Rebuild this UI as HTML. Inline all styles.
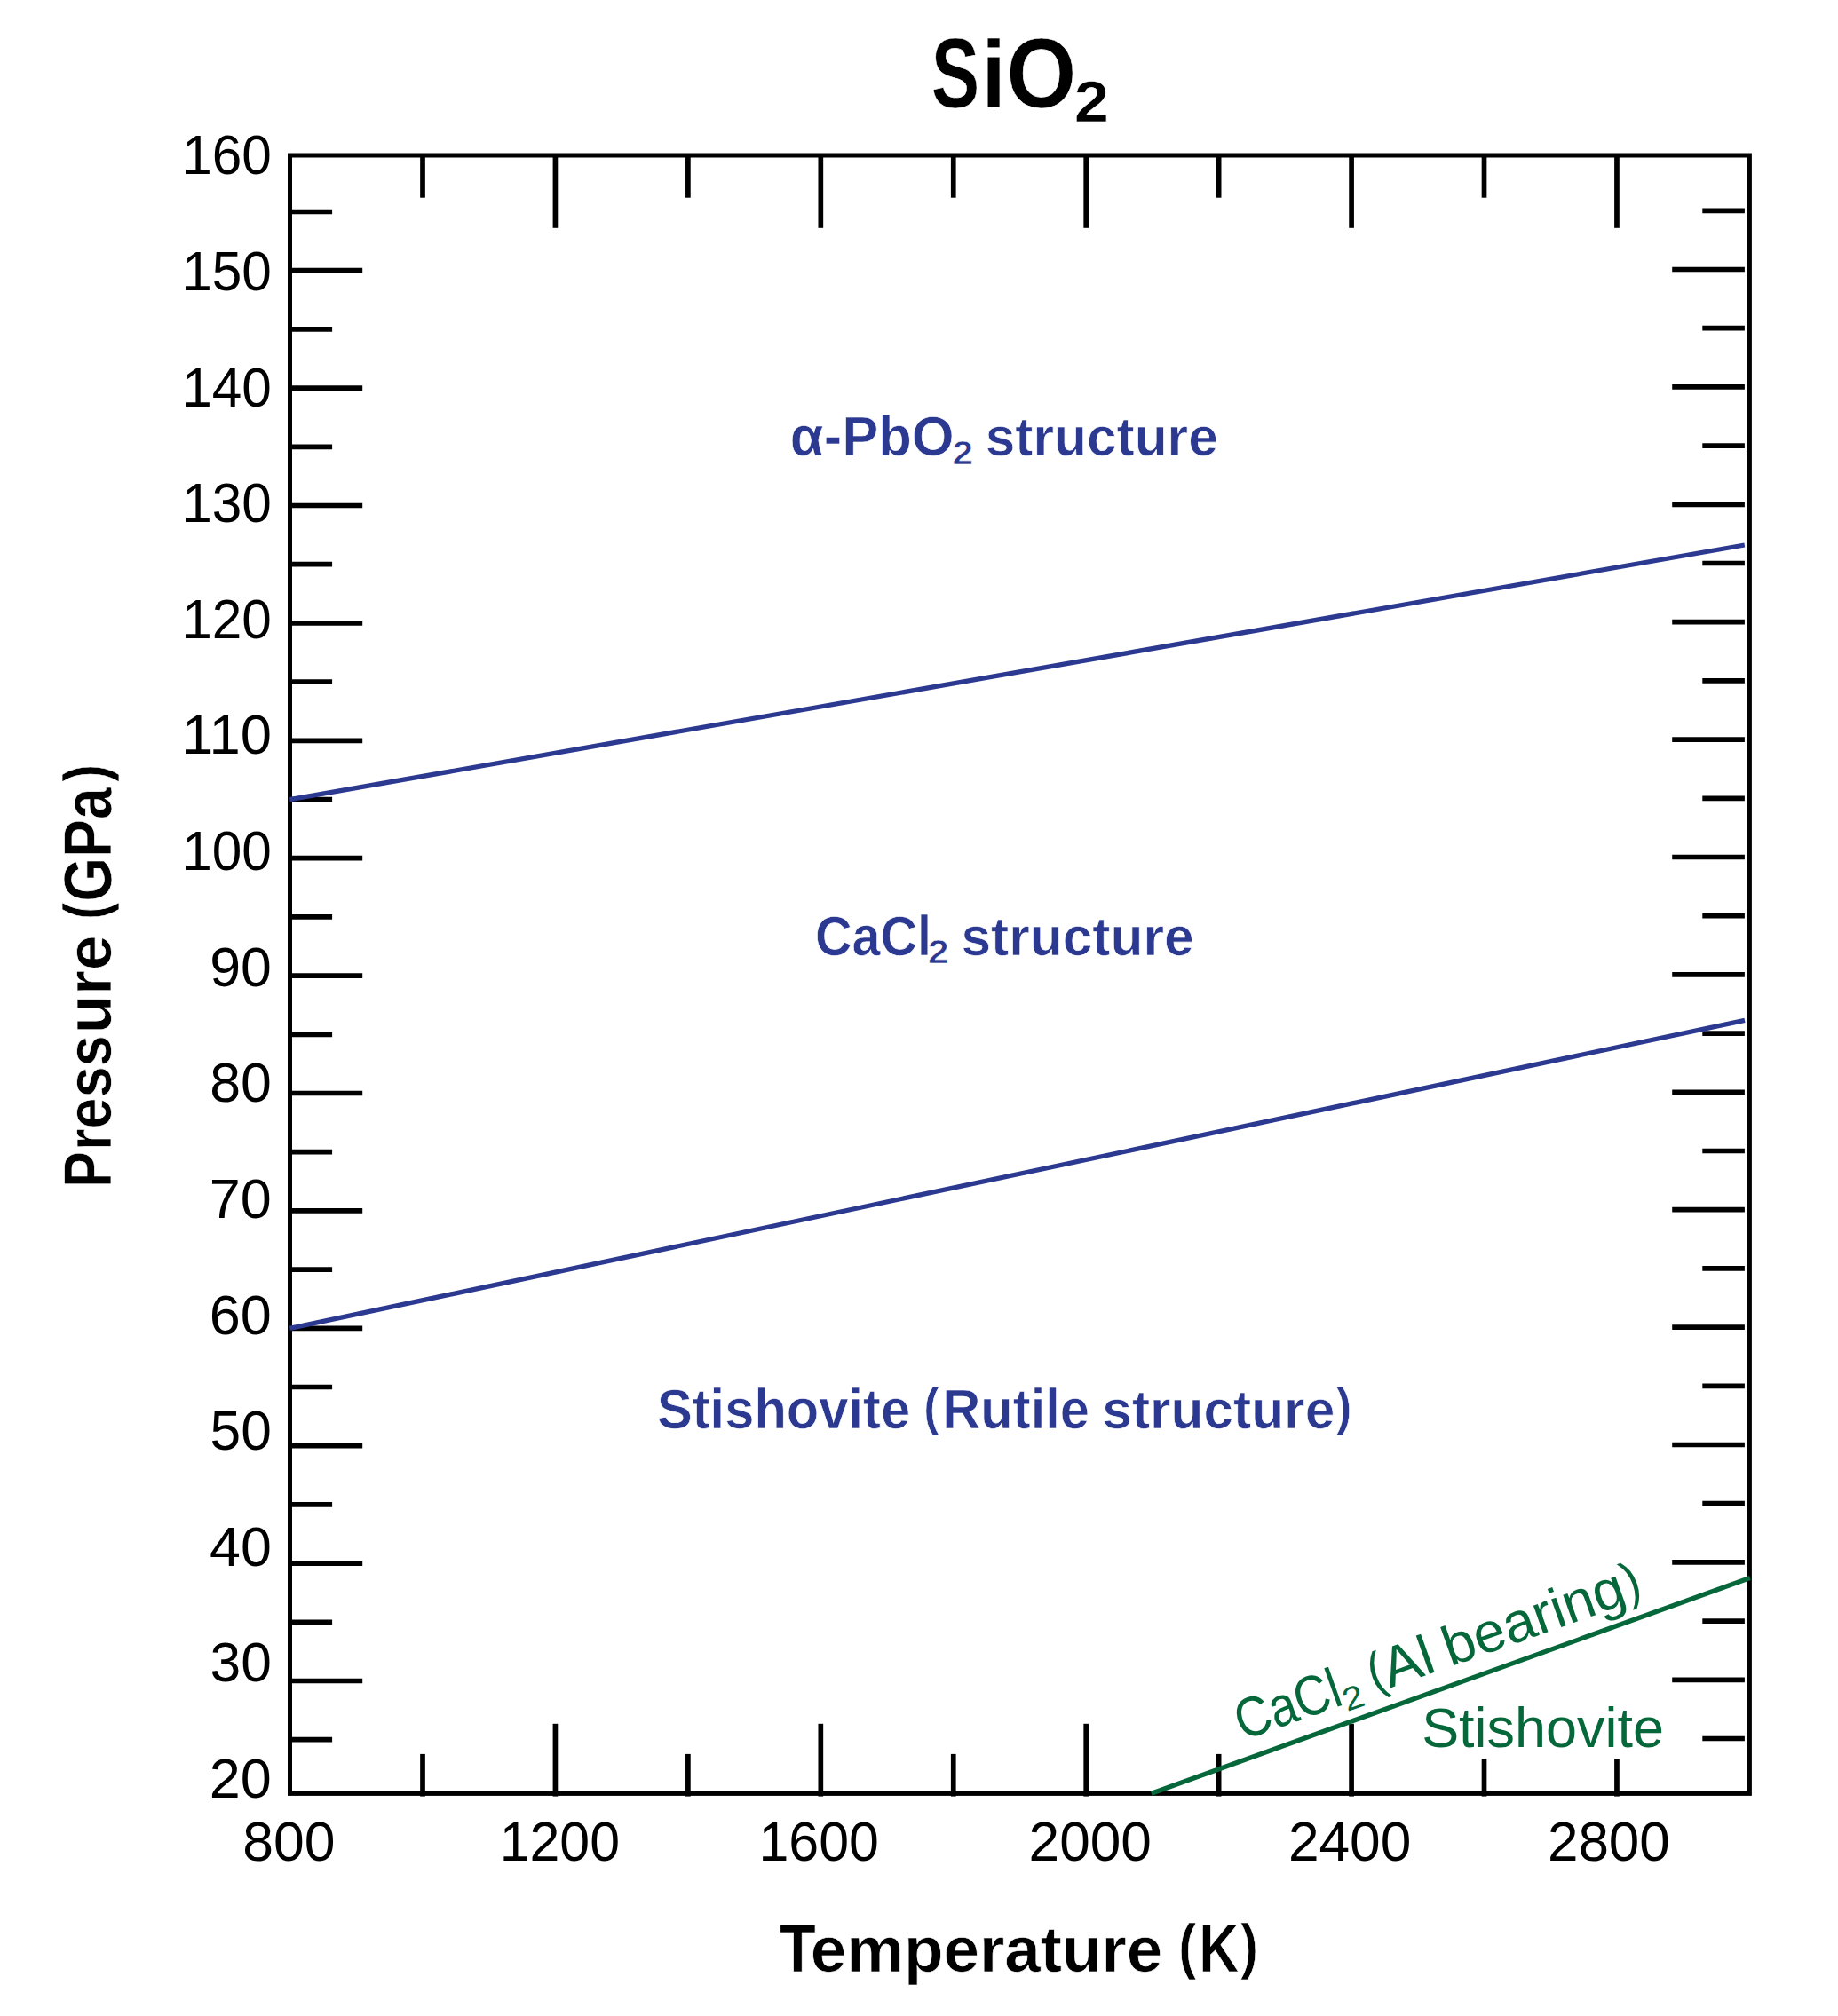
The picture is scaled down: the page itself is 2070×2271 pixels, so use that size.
<!DOCTYPE html>
<html lang="en">
<head>
<meta charset="utf-8">
<title>SiO2 phase diagram</title>
<style>
html,body{margin:0;padding:0;background:#fff;width:2070px;height:2271px;overflow:hidden;}
svg{display:block;}
text{font-family:"Liberation Sans", sans-serif;}
</style>
</head>
<body>
<svg width="2070" height="2271" viewBox="0 0 2070 2271">
<rect x="0" y="0" width="2070" height="2271" fill="#fff"/>
<g fill="none" stroke="#000" stroke-width="5.7" stroke-linecap="butt">
<line x1="326.50" y1="1959.70" x2="374.10" y2="1959.70"/>
<line x1="1917.30" y1="1958.50" x2="1964.90" y2="1958.50"/>
<line x1="326.50" y1="1893.50" x2="408.20" y2="1893.50"/>
<line x1="1883.20" y1="1892.30" x2="1964.90" y2="1892.30"/>
<line x1="326.50" y1="1827.30" x2="374.10" y2="1827.30"/>
<line x1="1917.30" y1="1826.10" x2="1964.90" y2="1826.10"/>
<line x1="326.50" y1="1761.10" x2="408.20" y2="1761.10"/>
<line x1="1883.20" y1="1759.90" x2="1964.90" y2="1759.90"/>
<line x1="326.50" y1="1694.90" x2="374.10" y2="1694.90"/>
<line x1="1917.30" y1="1693.70" x2="1964.90" y2="1693.70"/>
<line x1="326.50" y1="1628.70" x2="408.20" y2="1628.70"/>
<line x1="1883.20" y1="1627.50" x2="1964.90" y2="1627.50"/>
<line x1="326.50" y1="1562.50" x2="374.10" y2="1562.50"/>
<line x1="1917.30" y1="1561.30" x2="1964.90" y2="1561.30"/>
<line x1="326.50" y1="1496.30" x2="408.20" y2="1496.30"/>
<line x1="1883.20" y1="1495.10" x2="1964.90" y2="1495.10"/>
<line x1="326.50" y1="1430.10" x2="374.10" y2="1430.10"/>
<line x1="1917.30" y1="1428.90" x2="1964.90" y2="1428.90"/>
<line x1="326.50" y1="1363.90" x2="408.20" y2="1363.90"/>
<line x1="1883.20" y1="1362.70" x2="1964.90" y2="1362.70"/>
<line x1="326.50" y1="1297.70" x2="374.10" y2="1297.70"/>
<line x1="1917.30" y1="1296.50" x2="1964.90" y2="1296.50"/>
<line x1="326.50" y1="1231.50" x2="408.20" y2="1231.50"/>
<line x1="1883.20" y1="1230.30" x2="1964.90" y2="1230.30"/>
<line x1="326.50" y1="1165.30" x2="374.10" y2="1165.30"/>
<line x1="1917.30" y1="1164.10" x2="1964.90" y2="1164.10"/>
<line x1="326.50" y1="1099.10" x2="408.20" y2="1099.10"/>
<line x1="1883.20" y1="1097.90" x2="1964.90" y2="1097.90"/>
<line x1="326.50" y1="1032.90" x2="374.10" y2="1032.90"/>
<line x1="1917.30" y1="1031.70" x2="1964.90" y2="1031.70"/>
<line x1="326.50" y1="966.70" x2="408.20" y2="966.70"/>
<line x1="1883.20" y1="965.50" x2="1964.90" y2="965.50"/>
<line x1="326.50" y1="900.50" x2="374.10" y2="900.50"/>
<line x1="1917.30" y1="899.30" x2="1964.90" y2="899.30"/>
<line x1="326.50" y1="834.30" x2="408.20" y2="834.30"/>
<line x1="1883.20" y1="833.10" x2="1964.90" y2="833.10"/>
<line x1="326.50" y1="768.10" x2="374.10" y2="768.10"/>
<line x1="1917.30" y1="766.90" x2="1964.90" y2="766.90"/>
<line x1="326.50" y1="701.90" x2="408.20" y2="701.90"/>
<line x1="1883.20" y1="700.70" x2="1964.90" y2="700.70"/>
<line x1="326.50" y1="635.70" x2="374.10" y2="635.70"/>
<line x1="1917.30" y1="634.50" x2="1964.90" y2="634.50"/>
<line x1="326.50" y1="569.50" x2="408.20" y2="569.50"/>
<line x1="1883.20" y1="568.30" x2="1964.90" y2="568.30"/>
<line x1="326.50" y1="503.30" x2="374.10" y2="503.30"/>
<line x1="1917.30" y1="502.10" x2="1964.90" y2="502.10"/>
<line x1="326.50" y1="437.10" x2="408.20" y2="437.10"/>
<line x1="1883.20" y1="435.90" x2="1964.90" y2="435.90"/>
<line x1="326.50" y1="370.90" x2="374.10" y2="370.90"/>
<line x1="1917.30" y1="369.70" x2="1964.90" y2="369.70"/>
<line x1="326.50" y1="304.70" x2="408.20" y2="304.70"/>
<line x1="1883.20" y1="303.50" x2="1964.90" y2="303.50"/>
<line x1="326.50" y1="238.50" x2="374.10" y2="238.50"/>
<line x1="1917.30" y1="237.30" x2="1964.90" y2="237.30"/>
<line x1="476.00" y1="175.00" x2="476.00" y2="222.70"/>
<line x1="476.00" y1="1975.90" x2="476.00" y2="2023.60"/>
<line x1="625.44" y1="175.00" x2="625.44" y2="256.80"/>
<line x1="625.44" y1="1941.80" x2="625.44" y2="2023.60"/>
<line x1="774.88" y1="175.00" x2="774.88" y2="222.70"/>
<line x1="774.88" y1="1975.90" x2="774.88" y2="2023.60"/>
<line x1="924.32" y1="175.00" x2="924.32" y2="256.80"/>
<line x1="924.32" y1="1941.80" x2="924.32" y2="2023.60"/>
<line x1="1073.76" y1="175.00" x2="1073.76" y2="222.70"/>
<line x1="1073.76" y1="1975.90" x2="1073.76" y2="2023.60"/>
<line x1="1223.20" y1="175.00" x2="1223.20" y2="256.80"/>
<line x1="1223.20" y1="1941.80" x2="1223.20" y2="2023.60"/>
<line x1="1372.64" y1="175.00" x2="1372.64" y2="222.70"/>
<line x1="1372.64" y1="1975.90" x2="1372.64" y2="2023.60"/>
<line x1="1522.08" y1="175.00" x2="1522.08" y2="256.80"/>
<line x1="1522.08" y1="1941.80" x2="1522.08" y2="2023.60"/>
<line x1="1671.52" y1="175.00" x2="1671.52" y2="222.70"/>
<line x1="1671.52" y1="1981.20" x2="1671.52" y2="2023.60"/>
<line x1="1820.96" y1="175.00" x2="1820.96" y2="256.80"/>
<line x1="1820.96" y1="1981.20" x2="1820.96" y2="2023.60"/>
<rect x="326.5" y="175.0" width="1643.90" height="1845.40" stroke-width="5.0"/>
<line x1="326.4" y1="900.6" x2="1964.8" y2="614.0" stroke="#2b3990" stroke-width="5.3"/>
<line x1="326.4" y1="1496.4" x2="1965.0" y2="1149.3" stroke="#2b3990" stroke-width="5.3"/>
<line x1="1296.7" y1="2020.3" x2="1970.9" y2="1777.5" stroke="#06683a" stroke-width="5.4"/>
</g>
<g>
<text font-weight="400" fill="#000"><tspan x="205.18" y="196.33" font-size="63.23" textLength="100.65" lengthAdjust="spacingAndGlyphs">160</tspan></text>
<text font-weight="400" fill="#000"><tspan x="205.18" y="326.95" font-size="63.23" textLength="100.65" lengthAdjust="spacingAndGlyphs">150</tspan></text>
<text font-weight="400" fill="#000"><tspan x="205.18" y="457.57" font-size="63.23" textLength="100.65" lengthAdjust="spacingAndGlyphs">140</tspan></text>
<text font-weight="400" fill="#000"><tspan x="205.18" y="588.19" font-size="63.23" textLength="100.65" lengthAdjust="spacingAndGlyphs">130</tspan></text>
<text font-weight="400" fill="#000"><tspan x="205.18" y="718.81" font-size="63.23" textLength="100.65" lengthAdjust="spacingAndGlyphs">120</tspan></text>
<text font-weight="400" fill="#000"><tspan x="204.95" y="849.43" font-size="63.23" textLength="101.04" lengthAdjust="spacingAndGlyphs">110</tspan></text>
<text font-weight="400" fill="#000"><tspan x="205.18" y="980.05" font-size="63.23" textLength="100.65" lengthAdjust="spacingAndGlyphs">100</tspan></text>
<text font-weight="400" fill="#000"><tspan x="236.18" y="1110.67" font-size="63.23" textLength="69.66" lengthAdjust="spacingAndGlyphs">90</tspan></text>
<text font-weight="400" fill="#000"><tspan x="236.18" y="1241.29" font-size="63.23" textLength="69.66" lengthAdjust="spacingAndGlyphs">80</tspan></text>
<text font-weight="400" fill="#000"><tspan x="235.85" y="1371.91" font-size="63.23" textLength="70.00" lengthAdjust="spacingAndGlyphs">70</tspan></text>
<text font-weight="400" fill="#000"><tspan x="235.85" y="1502.53" font-size="63.23" textLength="70.00" lengthAdjust="spacingAndGlyphs">60</tspan></text>
<text font-weight="400" fill="#000"><tspan x="236.51" y="1633.15" font-size="63.23" textLength="69.32" lengthAdjust="spacingAndGlyphs">50</tspan></text>
<text font-weight="400" fill="#000"><tspan x="236.03" y="1763.77" font-size="63.23" textLength="69.81" lengthAdjust="spacingAndGlyphs">40</tspan></text>
<text font-weight="400" fill="#000"><tspan x="236.51" y="1894.39" font-size="63.23" textLength="69.32" lengthAdjust="spacingAndGlyphs">30</tspan></text>
<text font-weight="400" fill="#000"><tspan x="235.85" y="2025.01" font-size="63.23" textLength="70.00" lengthAdjust="spacingAndGlyphs">20</tspan></text>
<text font-weight="400" fill="#000"><tspan x="273.19" y="2096.30" font-size="63.23" textLength="104.22" lengthAdjust="spacingAndGlyphs">800</tspan></text>
<text font-weight="400" fill="#000"><tspan x="562.64" y="2096.30" font-size="63.23" textLength="135.37" lengthAdjust="spacingAndGlyphs">1200</tspan></text>
<text font-weight="400" fill="#000"><tspan x="854.54" y="2096.30" font-size="63.23" textLength="135.37" lengthAdjust="spacingAndGlyphs">1600</tspan></text>
<text font-weight="400" fill="#000"><tspan x="1158.59" y="2096.30" font-size="63.23" textLength="138.37" lengthAdjust="spacingAndGlyphs">2000</tspan></text>
<text font-weight="400" fill="#000"><tspan x="1450.89" y="2096.30" font-size="63.23" textLength="138.48" lengthAdjust="spacingAndGlyphs">2400</tspan></text>
<text font-weight="400" fill="#000"><tspan x="1742.90" y="2096.30" font-size="63.23" textLength="137.96" lengthAdjust="spacingAndGlyphs">2800</tspan></text>
<text font-weight="700" fill="#000" stroke="#fff" stroke-width="0.7"><tspan x="1048.75" y="121.20" font-size="111.77" textLength="54.47" lengthAdjust="spacingAndGlyphs">S</tspan><tspan x="1105.00" y="121.20" font-size="106.74" textLength="28.20" lengthAdjust="spacingAndGlyphs">i</tspan><tspan x="1133.13" y="121.20" font-size="111.77" textLength="79.13" lengthAdjust="spacingAndGlyphs">O</tspan><tspan x="1209.74" y="137.10" font-size="64.83" textLength="39.16" lengthAdjust="spacingAndGlyphs">2</tspan></text>
<text font-weight="700" fill="#000" stroke="#fff" stroke-width="0.7"><tspan x="878.03" y="2220.70" font-size="75.87" textLength="40.79" lengthAdjust="spacingAndGlyphs">T</tspan><tspan x="912.79" y="2220.70" font-size="72.84" textLength="396.53" lengthAdjust="spacingAndGlyphs">emperature</tspan> <tspan x="1327.32" y="2215.70" font-size="67.83" textLength="19.86" lengthAdjust="spacingAndGlyphs">(</tspan><tspan x="1350.25" y="2220.70" font-size="75.87" textLength="45.01" lengthAdjust="spacingAndGlyphs">K</tspan><tspan x="1397.31" y="2215.70" font-size="67.83" textLength="19.63" lengthAdjust="spacingAndGlyphs">)</tspan></text>
<text font-weight="700" fill="#000" stroke="#fff" stroke-width="0.7" transform="translate(124.80,1333.70) rotate(-90)"><tspan x="-3.96" y="0.00" font-size="75.87" textLength="40.61" lengthAdjust="spacingAndGlyphs">P</tspan><tspan x="37.81" y="0.00" font-size="72.84" textLength="129.58" lengthAdjust="spacingAndGlyphs">ress</tspan><tspan x="169.53" y="0.00" font-size="72.84" textLength="110.85" lengthAdjust="spacingAndGlyphs">ure</tspan> <tspan x="297.93" y="-5.30" font-size="67.83" textLength="19.15" lengthAdjust="spacingAndGlyphs">(</tspan><tspan x="318.04" y="0.00" font-size="75.87" textLength="128.21" lengthAdjust="spacingAndGlyphs">GPa</tspan><tspan x="453.01" y="-5.30" font-size="67.83" textLength="19.63" lengthAdjust="spacingAndGlyphs">)</tspan></text>
<text font-weight="700" fill="#2b3990" stroke="#fff" stroke-width="0.7"><tspan x="889.84" y="512.90" font-size="63.23" textLength="184.94" lengthAdjust="spacingAndGlyphs">α-PbO</tspan><tspan x="1072.42" y="523.10" font-size="36.63" textLength="23.52" lengthAdjust="spacingAndGlyphs">2</tspan> <tspan x="1109.68" y="512.90" font-size="60.70" textLength="262.10" lengthAdjust="spacingAndGlyphs">structure</tspan></text>
<text font-weight="700" fill="#2b3990" stroke="#fff" stroke-width="0.7"><tspan x="918.00" y="1075.60" font-size="63.23" textLength="131.12" lengthAdjust="spacingAndGlyphs">CaCl</tspan><tspan x="1045.01" y="1085.30" font-size="36.63" textLength="23.64" lengthAdjust="spacingAndGlyphs">2</tspan> <tspan x="1082.48" y="1075.60" font-size="60.70" textLength="262.10" lengthAdjust="spacingAndGlyphs">structure</tspan></text>
<text font-weight="700" fill="#2b3990" stroke="#fff" stroke-width="0.7"><tspan x="739.91" y="1609.00" font-size="63.23" textLength="285.31" lengthAdjust="spacingAndGlyphs">Stishovite</tspan> <tspan x="1040.26" y="1605.40" font-size="58.30" textLength="17.60" lengthAdjust="spacingAndGlyphs">(</tspan><tspan x="1061.22" y="1609.00" font-size="63.23" textLength="165.84" lengthAdjust="spacingAndGlyphs">Rutile</tspan> <tspan x="1241.28" y="1609.00" font-size="60.70" textLength="262.00" lengthAdjust="spacingAndGlyphs">structure</tspan><tspan x="1504.84" y="1605.40" font-size="58.30" textLength="17.60" lengthAdjust="spacingAndGlyphs">)</tspan></text>
<text font-weight="400" fill="#06683a"><tspan x="1601.17" y="1968.20" font-size="63.23" textLength="272.79" lengthAdjust="spacingAndGlyphs">Stishovite</tspan></text>
<text font-weight="400" fill="#06683a" transform="translate(1402.05,1959.90) rotate(-19.6)"><tspan x="-2.76" y="0.00" font-size="63.23" textLength="122.48" lengthAdjust="spacingAndGlyphs">CaCl</tspan><tspan x="119.21" y="8.80" font-size="36.63" textLength="23.22" lengthAdjust="spacingAndGlyphs">2</tspan> <tspan x="155.63" y="-3.00" font-size="58.80" textLength="17.59" lengthAdjust="spacingAndGlyphs">(</tspan><tspan x="173.18" y="0.00" font-size="63.23" textLength="57.80" lengthAdjust="spacingAndGlyphs">Al</tspan> <tspan x="245.64" y="0.00" font-size="63.23" textLength="213.58" lengthAdjust="spacingAndGlyphs">bearing</tspan><tspan x="460.46" y="-3.00" font-size="58.80" textLength="17.93" lengthAdjust="spacingAndGlyphs">)</tspan></text>
</g>
</svg>
</body>
</html>
